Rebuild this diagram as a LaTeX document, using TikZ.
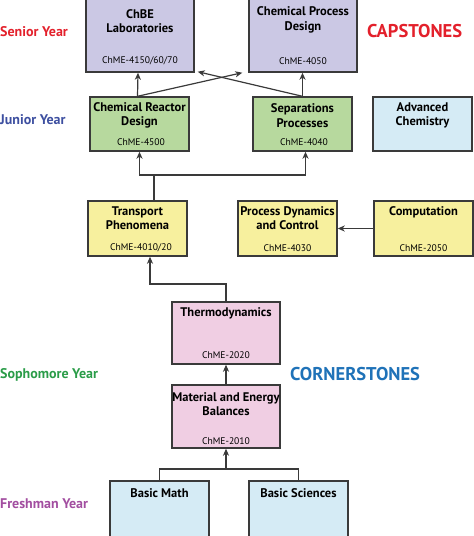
\documentclass[tikz,border=0pt]{standalone}
\usepackage{fontspec}
\setmainfont{PT Sans}
\usepackage{xcolor}
\usetikzlibrary{shapes,positioning,arrows.meta}
\definecolor{seniorfill}{HTML}{CBC8E4}
\definecolor{juniorfill}{HTML}{B7D99E}
\definecolor{otherfill}{HTML}{D5EBF5}
\definecolor{corefill}{HTML}{F7F09E}
\definecolor{sophfill}{HTML}{F0CEE3}
\definecolor{boxline}{HTML}{3A3A3A}
\definecolor{seniorcol}{HTML}{E3202B}
\definecolor{juniorcol}{HTML}{3D4FA0}
\definecolor{sophcol}{HTML}{2A9C48}
\definecolor{freshcol}{HTML}{A24EA0}
\definecolor{cornercol}{HTML}{1F72B8}
\tikzset{course/.style={rectangle,draw=boxline,line width=1.4pt,inner sep=0pt,minimum width=99pt,minimum height=55pt},
  title/.style={font=\bfseries\fontsize{12.5}{14.5}\selectfont,align=center,inner sep=0pt},
  code/.style={font=\fontsize{9.6}{11}\selectfont,inner sep=0pt},
  year/.style={font=\bfseries\fontsize{14}{16}\selectfont,anchor=west,inner sep=0pt},
  banner/.style={font=\bfseries\fontsize{18.5}{21}\selectfont,anchor=west,inner sep=0pt},
  link/.style={draw=boxline,line width=1.2pt}}

\begin{document}
\begin{tikzpicture}[>={Stealth[length=7pt,width=6pt,inset=2pt]},x=1pt,y=-1pt]
        \clip (0,0) rectangle (474,536);

        % year labels
        \node[year,text=seniorcol] (senior)at (0,32) {Senior Year};
        \node[year,text=juniorcol] (junior)at (0,120) {Junior Year};
        \node[year,text=sophcol] (soph)at (0,375) {Sophomore Year};
        \node[year,text=freshcol] (fresh)at (0,504) {Freshman Year};
        \node[banner,text=seniorcol] (capst)at (367,31) {CAPSTONES};
        \node[banner,text=cornercol] (corner)at (290,374) {CORNERSTONES};

        % courses
        \node[course,fill=seniorfill,minimum width=108pt,minimum height=80pt] (labs)at (140,32) {};
        \node[course,fill=seniorfill,minimum width=108pt,minimum height=80pt] (design)at (303,32) {};
        \node[course,fill=juniorfill,minimum height=54pt] (reactor)at (139.5,124) {};
        \node[course,fill=juniorfill,minimum height=54pt] (sep)at (302.5,124) {};
        \node[course,fill=otherfill,minimum height=54pt] (adv)at (422.5,124) {};
        \node[course,fill=corefill] (transport)at (137.5,228.5) {};
        \node[course,fill=corefill] (dyn)at (287.5,228.5) {};
        \node[course,fill=corefill] (comp)at (423.5,228.5) {};
        \node[course,fill=sophfill,minimum width=108pt,minimum height=62pt] (thermo)at (226,333) {};
        \node[course,fill=sophfill,minimum width=108pt,minimum height=63pt] (material)at (226,416.5) {};
        \node[course,fill=otherfill,minimum height=70pt] (math)at (159.5,516) {};
        \node[course,fill=otherfill,minimum height=70pt] (sci)at (298.5,516) {};

        % titles and codes
        \node[title] (labsT)at (140,21) {ChBE\\Laboratories};
        \node[code] (labsC)at (140,61) {ChME-4150/60/70};
        \node[title] (designT)at (303,20) {Chemical Process\\Design};
        \node[code] (designC)at (303,61) {ChME-4050};
        \node[title] (reactorT)at (139.5,115.5) {Chemical Reactor\\Design};
        \node[code] (reactorC)at (141,142) {ChME-4500};
        \node[title] (sepT)at (302.5,115.5) {Separations\\Processes};
        \node[code] (sepC)at (304,142) {ChME-4040};
        \node[title] (advT)at (422.5,115.5) {Advanced\\Chemistry};
        \node[title] (transportT)at (137.5,218) {Transport\\Phenomena};
        \node[code] (transportC)at (141,248) {ChME-4010/20};
        \node[title] (dynT)at (287.5,218) {Process Dynamics\\and Control};
        \node[code] (dynC)at (287.5,248) {ChME-4030};
        \node[title] (compT)at (423.5,212) {Computation};
        \node[code] (compC)at (423.5,248) {ChME-2050};
        \node[title] (thermoT)at (226,313) {Thermodynamics};
        \node[code] (thermoC)at (226,355) {ChME-2020};
        \node[title] (materialT)at (226,404) {Material and Energy\\Balances};
        \node[code] (materialC)at (226,441) {ChME-2010};
        \node[title] (mathT)at (159.5,493) {Basic Math};
        \node[title] (sciT)at (298.5,493) {Basic Sciences};

        % junction points
        \coordinate (split) at (154,175);
        \coordinate (bend) at (150,284);
        \coordinate (merge) at (226,469);

        \draw [link,->] ([xshift=-2pt]reactor.north) to ([xshift=-2pt]labs.south);
        \draw [link,->] ([xshift=-2pt]reactor.north) to ([xshift=-6pt]design.south west);
        \draw [link,->] (sep.north) to ([xshift=3pt,yshift=1pt]labs.south east);
        \draw [link,->] (sep.north) to (sep.north |- design.south);
        \draw [link] (transport.north -| split) to (split);
        \draw [link,->] (split) -| (reactor.south);
        \draw [link,->] (split) -| ([xshift=3pt]sep.south);
        \draw [link,->] (comp.west) to (dyn.east);
        \draw [link,->] (thermo.north) |- (bend) to (bend |- transport.south);
        \draw [link,->] (material.north) to (thermo.south);
        \draw [link] (math.north) |- (merge);
        \draw [link] (sci.north) |- (merge);
        \draw [link,->] (merge) to (material.south);
    \end{tikzpicture}
\end{document}
